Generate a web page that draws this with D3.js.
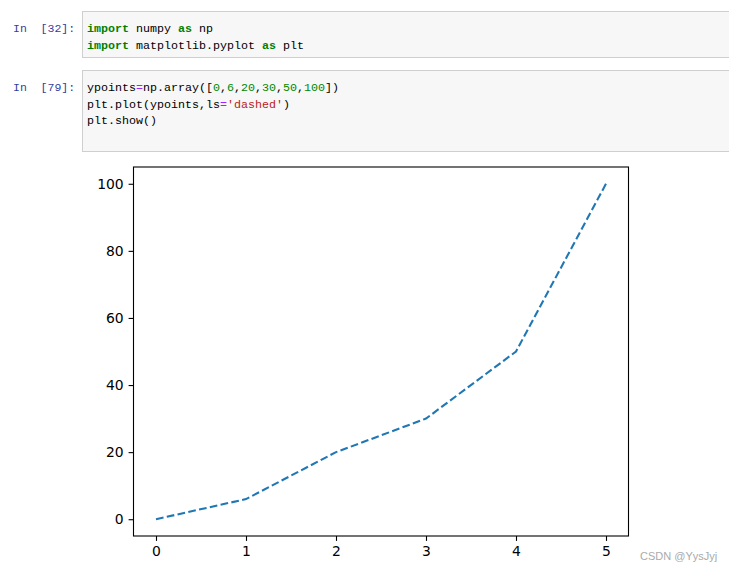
<!DOCTYPE html>
<html><head><meta charset="utf-8">
<script src="https://cdn.jsdelivr.net/npm/d3@7"></script>
<style>
html,body{margin:0;padding:0;background:#fff;}
svg{display:block;}
</style></head>
<body>
<svg id="c" width="729" height="572"></svg>
<script>
// data
const ypoints = [0, 6, 20, 30, 50, 100];
const xIndex = [0, 1, 2, 3, 4, 5];
const xTicks = [0, 1, 2, 3, 4, 5];
const yTicks = [0, 20, 40, 60, 80, 100];
const xDomain = [-0.25, 5.25];
const yDomain = [-5, 105];

// notebook cells (token lists)
const K = "#008000", N = "#008800", P = "#aa22ff", S = "#ba2121", T = "#000";
const cell1 = [
  [["import", K, true], [" numpy ", T], ["as", K, true], [" np", T]],
  [["import", K, true], [" matplotlib.pyplot ", T], ["as", K, true], [" plt", T]]
];
const cell2 = [
  [["ypoints", T], ["=", P], ["np.array([", T], ["0", N], [",", T], ["6", N], [",", T], ["20", N], [",", T], ["30", N], [",", T], ["50", N], [",", T], ["100", N], ["])", T]],
  [["plt.plot(ypoints,ls", T], ["=", P], ["'dashed'", S], [")", T]],
  [["plt.show()", T]]
];

const svg = d3.select("#c");
const mono = "'Liberation Mono','DejaVu Sans Mono',monospace";
const CW = 7; // char width px

function drawCell(y0, h, prompt, lines) {
  svg.append("rect").attr("x", 82.5).attr("y", y0 + 0.5).attr("width", 660).attr("height", h)
    .attr("fill", "#f7f7f7").attr("stroke", "#cfcfcf").attr("stroke-width", 1);
  svg.append("text").attr("x", 13).attr("y", y0 + 21).attr("font-family", mono)
    .attr("font-size", 11.5).attr("fill", "#303f9f").attr("xml:space", "preserve").text(prompt);
  lines.forEach((toks, i) => {
    let col = 0;
    const t = svg.append("text").attr("y", y0 + 21 + i * 16.5).attr("font-family", mono)
      .attr("font-size", 11.67).attr("xml:space", "preserve");
    toks.forEach(([s, c, b]) => {
      t.append("tspan").attr("x", 87 + col * CW).attr("fill", c)
        .attr("font-weight", b ? "bold" : "normal").text(s);
      col += s.length;
    });
  });
}
drawCell(11, 46, "In  [32]:", cell1);
drawCell(70, 81, "In  [79]:", cell2);

// chart
const L = 133.5, R = 628.5, Tp = 167, B = 536;
const x = d3.scaleLinear().domain(xDomain).range([L, R]);
const y = d3.scaleLinear().domain(yDomain).range([B, Tp]);
const font = "'DejaVu Sans',sans-serif";

const line = d3.line().x((d, i) => x(xIndex[i])).y(d => y(d));
svg.append("path").datum(ypoints).attr("d", line).attr("fill", "none")
  .attr("stroke", "#1f77b4").attr("stroke-width", 2.08)
  .attr("stroke-dasharray", "7.7,3.33");

const xa = svg.append("g").attr("transform", `translate(0,${B})`)
  .call(d3.axisBottom(x).tickValues(xTicks).tickSize(4.9).tickPadding(4.9).tickFormat(d3.format("d")));
const ya = svg.append("g").attr("transform", `translate(${L},0)`)
  .call(d3.axisLeft(y).tickValues(yTicks).tickSize(4.9).tickPadding(4.9).tickFormat(d3.format("d")));
[xa, ya].forEach(g => {
  g.select(".domain").remove();
  g.selectAll("line").attr("stroke", "#000").attr("stroke-width", 1.1);
  g.selectAll("text").attr("font-family", font).attr("font-size", 13.9).attr("fill", "#000");
});
svg.append("rect").attr("x", L).attr("y", Tp).attr("width", R - L).attr("height", B - Tp)
  .attr("fill", "none").attr("stroke", "#000").attr("stroke-width", 1.1);

svg.append("text").attr("x", 640).attr("y", 560).attr("font-family", "'Liberation Sans',Arial,sans-serif")
  .attr("font-size", 11).attr("fill", "#aaa").text("CSDN @YysJyj");
</script>
</body></html>
